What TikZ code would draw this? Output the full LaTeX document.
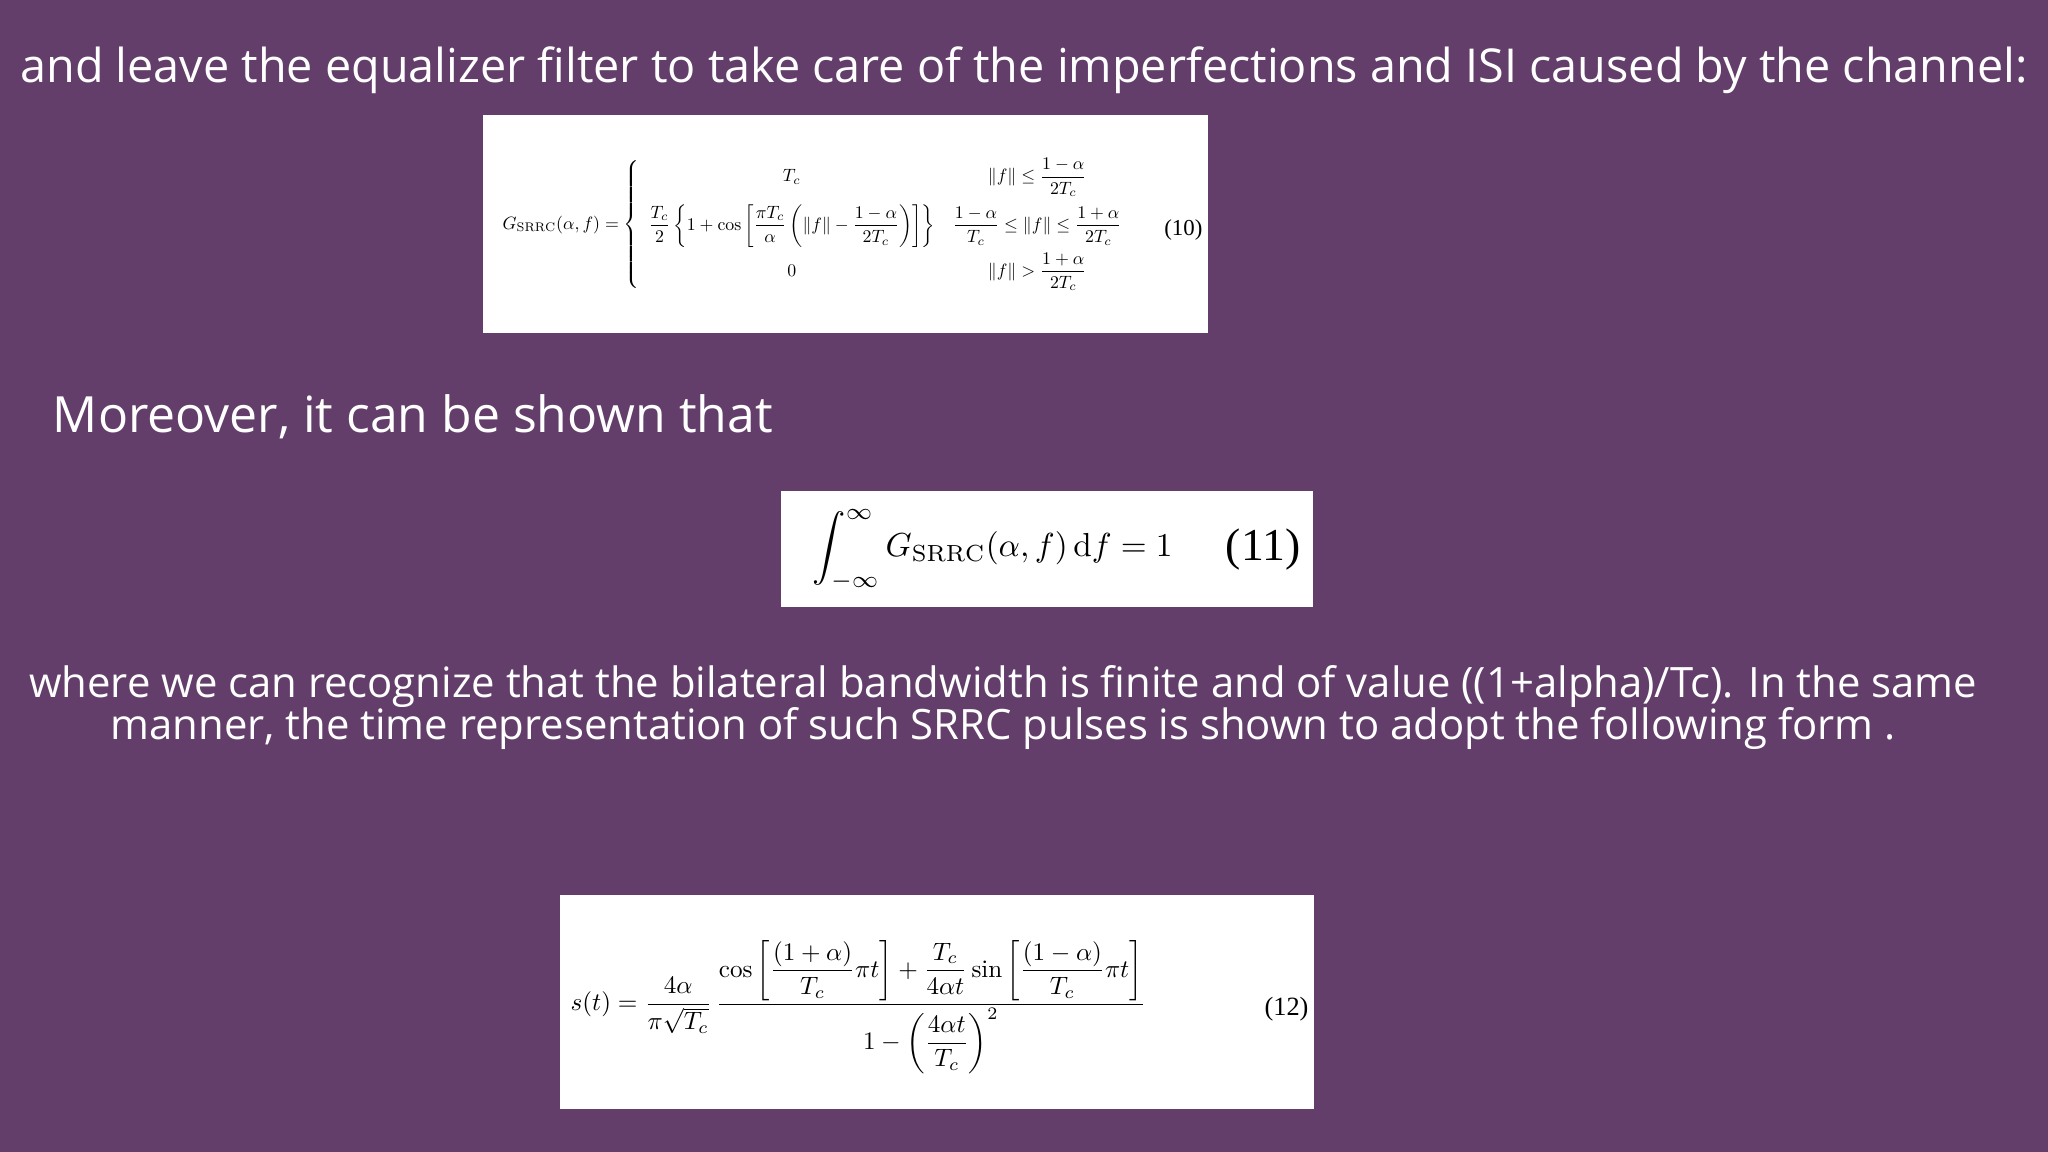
\documentclass[tikz,border=0pt]{standalone}
\usepackage{amsmath}
\usepackage{graphicx}
\usepackage{fontspec}
\newfontfamily\sansf{Open Sans}
\newfontfamily\eqfont{Liberation Serif}
\definecolor{bg}{HTML}{633E6B}
\tikzset{txt/.style={text=white,inner sep=0pt,font=\sansf},
 box/.style={fill=white,draw=none},
 eqn/.style={inner sep=0pt,text=black}}
\begin{document}
\begin{tikzpicture}[x=0.013061cm,y=-0.013061cm]
\fill[bg] (0,0) rectangle (1568,882);
\useasboundingbox (0,0) rectangle (1568,882);
\node[txt,anchor=center] (t1) at (784,54) {\fontsize{13.3}{16}\selectfont and leave the equalizer filter to take care of the imperfections and ISI caused by the channel:};
\fill[box] (370,88) rectangle (925,255);
\node[eqn] (e10) at (626,172) {\resizebox{6.3cm}{!}{$G_{\mathrm{SRRC}}(\alpha,f)=\left\{\begin{array}{cc}
T_c & \|f\|\le\dfrac{1-\alpha}{2T_c}\\[9pt]
\dfrac{T_c}{2}\left\{1+\cos\left[\dfrac{\pi T_c}{\alpha}\left(\|f\|-\dfrac{1-\alpha}{2T_c}\right)\right]\right\} & \dfrac{1-\alpha}{T_c}\le\|f\|\le\dfrac{1+\alpha}{2T_c}\\[9pt]
0 & \|f\|>\dfrac{1+\alpha}{2T_c}\end{array}\right.$}};
\node[eqn] (n10) at (906,176) {\fontsize{6.5}{8}\selectfont\eqfont (10)};
\node[txt,anchor=west] (t2) at (40,319) {\fontsize{14.2}{18}\selectfont Moreover, it can be shown that};
\fill[box] (598,376) rectangle (1005,465);
\node[eqn] (e11) at (760,421) {\resizebox{3.6cm}{!}{$\displaystyle\int_{-\infty}^{\infty} G_{\mathrm{SRRC}}(\alpha,f)\,\mathrm{d}f=1$}};
\node[eqn] (n11) at (967,421) {\fontsize{13}{16}\selectfont\eqfont (11)};
\node[txt,align=center] (t3) at (768,542) {\fontsize{11.9}{16.5}\selectfont where we can recognize that the bilateral bandwidth is finite and of value ((1+alpha)/Tc). In the same\\\fontsize{11.9}{16.5}\selectfont manner, the time representation of such SRRC pulses is shown to adopt the following form .};
\fill[box] (429,685) rectangle (1006,849);
\node[eqn] (e12) at (657,771) {\resizebox{5.75cm}{!}{$s(t)=\dfrac{4\alpha}{\pi\sqrt{T_c}}\,\dfrac{\cos\left[\dfrac{(1+\alpha)}{T_c}\pi t\right]+\dfrac{T_c}{4\alpha t}\sin\left[\dfrac{(1-\alpha)}{T_c}\pi t\right]}{1-\left(\dfrac{4\alpha t}{T_c}\right)^2}$}};
\node[eqn] (n12) at (985,773) {\fontsize{7.5}{9}\selectfont\eqfont (12)};
\end{tikzpicture}
\end{document}
